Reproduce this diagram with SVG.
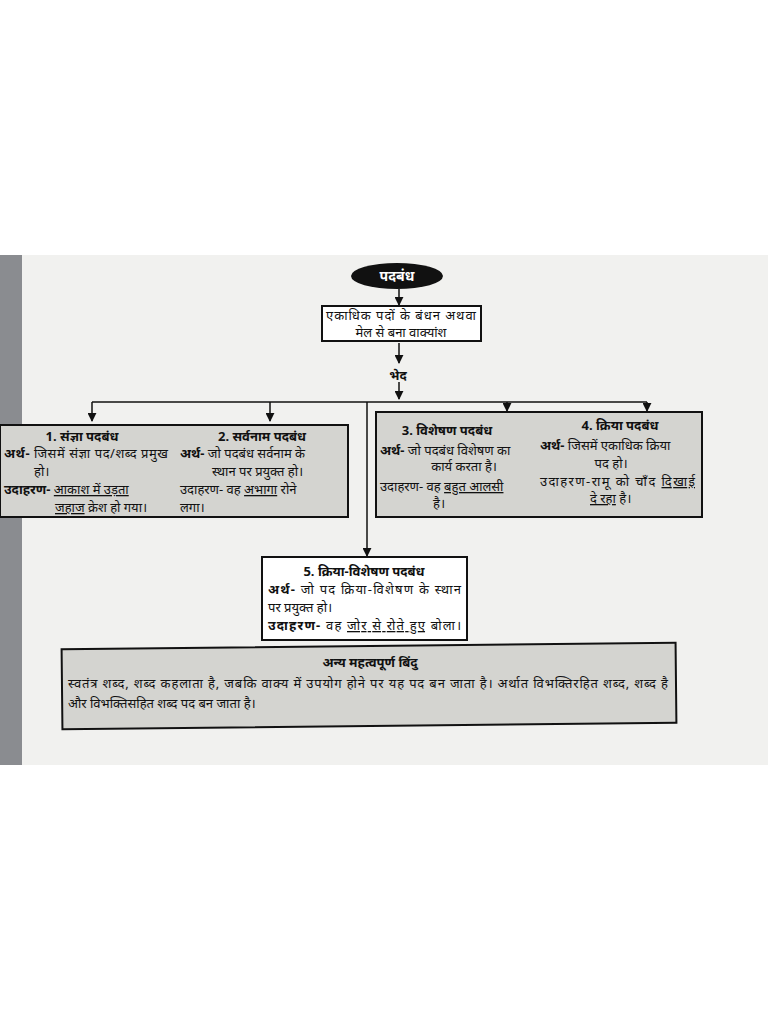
<svg xmlns="http://www.w3.org/2000/svg" width="768" height="1024" viewBox="0 0 768 1024">
<style>
text{font-family:"Noto Sans","Lato",sans-serif;font-size:13px;fill:#111}
.b{font-weight:bold}
.box{stroke:#111;stroke-width:2}
.g{fill:#d4d4d0}
.ln{stroke:#111;stroke-width:1.5;fill:none}
.u{text-decoration:underline}
</style>
<defs><marker id="ah" viewBox="0 0 10 10" refX="9" refY="5" markerWidth="6" markerHeight="6" orient="auto"><path d="M0,0L10,5L0,10z" fill="#111"/></marker></defs>
<rect width="768" height="1024" fill="#fff"/>
<rect x="0" y="255" width="768" height="510" fill="#f1f1ef"/>
<rect x="0" y="255" width="22" height="510" fill="#8a8c90"/>
<g id="connectors">
<line class="ln" x1="399" y1="289" x2="399" y2="305" marker-end="url(#ah)"/>
<line class="ln" x1="399" y1="343" x2="399" y2="363" marker-end="url(#ah)"/>
<line class="ln" x1="399" y1="382" x2="399" y2="399" marker-end="url(#ah)"/>
<line class="ln" x1="92" y1="402" x2="647" y2="402"/>
<line class="ln" x1="92" y1="402" x2="92" y2="421" marker-end="url(#ah)"/>
<line class="ln" x1="270" y1="402" x2="270" y2="421" marker-end="url(#ah)"/>
<line class="ln" x1="507" y1="402" x2="507" y2="411" marker-end="url(#ah)"/>
<line class="ln" x1="647" y1="402" x2="647" y2="411" marker-end="url(#ah)"/>
<line class="ln" x1="367" y1="402" x2="367" y2="556" marker-end="url(#ah)"/>
</g>
<g id="root">
<ellipse cx="397" cy="276" rx="46" ry="13" fill="#111"/>
<text x="397" y="281" text-anchor="middle" class="b" style="fill:#fff;font-size:14px">पदबंध</text>
</g>
<g id="def">
<rect class="box" x="322" y="306" width="159" height="35" fill="#fff" stroke-width="1.5"/>
<text x="401" y="320" text-anchor="middle" textLength="150">एकाधिक पदों के बंधन अथवा</text>
<text x="401" y="337" text-anchor="middle">मेल से बना वाक्यांश</text>
</g>
<g id="bhed"><text x="398" y="380" text-anchor="middle" class="b">भेद</text></g>
<g id="n12">
<rect class="box g" x="0" y="425" width="348" height="92"/>
<text x="82" y="441" text-anchor="middle" class="b">1. संज्ञा पदबंध</text>
<text x="4" y="458" textLength="164"><tspan class="b">अर्थ-</tspan> जिसमें संज्ञा पद/शब्द प्रमुख</text>
<text x="34" y="476">हो।</text>
<text x="4" y="494"><tspan class="b">उदाहरण-</tspan> <tspan class="u">आकाश में उड़ता</tspan></text>
<text x="55" y="512"><tspan class="u">जहाज</tspan> क्रेश हो गया।</text>
<text x="262" y="441" text-anchor="middle" class="b">2. सर्वनाम पदबंध</text>
<text x="180" y="458"><tspan class="b">अर्थ-</tspan> जो पदबंध सर्वनाम के</text>
<text x="212" y="476">स्थान पर प्रयुक्त हो।</text>
<text x="180" y="494">उदाहरण- वह <tspan class="u">अभागा</tspan> रोने</text>
<text x="180" y="512">लगा।</text>
</g>
<g id="n34">
<rect class="box g" x="376" y="412" width="326" height="105"/>
<text x="447" y="435" text-anchor="middle" class="b">3. विशेषण पदबंध</text>
<text x="380" y="455"><tspan class="b">अर्थ-</tspan> जो पदबंध विशेषण का</text>
<text x="464" y="471" text-anchor="middle">कार्य करता है।</text>
<text x="380" y="491">उदाहरण- वह <tspan class="u">बहुत आलसी</tspan></text>
<text x="439" y="508" text-anchor="middle">है।</text>
<text x="620" y="430" text-anchor="middle" class="b">4. क्रिया पदबंध</text>
<text x="540" y="450"><tspan class="b">अर्थ-</tspan> जिसमें एकाधिक क्रिया</text>
<text x="611" y="468" text-anchor="middle">पद हो।</text>
<text x="540" y="486" textLength="155">उदाहरण-रामू को चाँद <tspan class="u">दिखाई</tspan></text>
<text x="590" y="503"><tspan class="u">दे रहा</tspan> है।</text>
</g>
<g id="n5">
<rect class="box" x="262" y="557" width="205" height="83" fill="#fff" stroke-width="1.5"/>
<text x="364" y="576" text-anchor="middle" class="b">5. क्रिया-विशेषण पदबंध</text>
<text x="268" y="594" textLength="193"><tspan class="b">अर्थ-</tspan> जो पद क्रिया-विशेषण के स्थान</text>
<text x="268" y="612">पर प्रयुक्त हो।</text>
<text x="268" y="630" textLength="193"><tspan class="b">उदाहरण-</tspan> वह <tspan class="u">जोर से रोते हुए</tspan> बोला।</text>
</g>
<g id="note">
<rect class="box g" x="62" y="646" width="614" height="80" transform="rotate(-0.6 369 686)"/>
<text x="370" y="667" text-anchor="middle" class="b">अन्य महत्वपूर्ण बिंदु</text>
<text x="68" y="688" textLength="600">स्वतंत्र शब्द, शब्द कहलाता है, जबकि वाक्य में उपयोग होने पर यह पद बन जाता है। अर्थात विभक्तिरहित शब्द, शब्द है</text>
<text x="68" y="708">और विभक्तिसहित शब्द पद बन जाता है।</text>
</g>
</svg>
